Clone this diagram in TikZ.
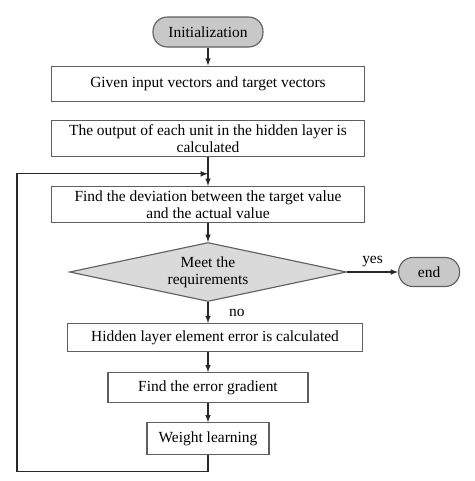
\documentclass[tikz,border=0pt]{standalone}
\usepackage{fontspec}
\setmainfont{Liberation Serif}
\usepackage{tikz}
\usetikzlibrary{positioning,arrows,shapes.geometric,calc}
\definecolor{TermFill}{RGB}{200,200,200}
\definecolor{DecFill}{RGB}{218,218,218}
\definecolor{BoxBorder}{RGB}{95,95,95}
\definecolor{LineCol}{RGB}{40,40,40}

\begin{document}
\begin{tikzpicture}[
  font=\fontsize{11}{12}\selectfont,
  >=latex,
  term/.style={
    rectangle, rounded corners=0.36cm, draw=BoxBorder, fill=TermFill, line width=0.8pt,
    inner sep=2pt, minimum height=0.75cm, align=center
  },
  proc/.style={
    rectangle, draw=BoxBorder, fill=white, line width=0.8pt,
    inner sep=2pt, align=center, minimum width=7.825cm, minimum height=0.875cm
  },
  dec/.style={
    diamond, aspect=4.7, draw=BoxBorder, fill=DecFill, line width=0.8pt,
    inner sep=0pt, align=center, minimum width=6.925cm, minimum height=1.475cm
  },
  arrow/.style={->, line width=0.8pt, draw=LineCol}
]
\useasboundingbox (-5.2,0.8) rectangle (6.65,-11.225);

% --- START ---
\node[term, minimum width=2.75cm] (init) {Initialization};

% --- PREPARATION ---
\node[proc, below=0.45cm of init] (given) {Given input vectors and target vectors};
\node[proc, minimum height=0.9cm, below=0.45cm of given] (hidout) {The output of each unit in the hidden layer is\\calculated};

% --- LOOP BODY ---
\node[proc, minimum height=0.9cm, below=0.725cm of hidout] (deviation) {Find the deviation between the target value\\and the actual value};
\node[dec, below=0.475cm of deviation] (meet) {Meet the\\requirements};
\node[term, minimum width=1.525cm, minimum height=0.725cm, right=1.275cm of meet] (end) {end};
\node[proc, minimum width=7.375cm, minimum height=0.7cm, below=0.525cm of meet, xshift=0.175cm] (hiderr) {Hidden layer element error is calculated};
\node[proc, minimum width=5cm, minimum height=0.75cm, below=0.5cm of hiderr, xshift=-0.175cm] (gradient) {Find the error gradient};
\node[proc, minimum width=3.05cm, minimum height=0.8cm, below=0.475cm of gradient] (weight) {Weight learning};

\coordinate[above=0.3cm of deviation] (join);

% --- connectors ---
\draw[arrow] (init) -- (given);
\draw[arrow] (hidout) -- (deviation);
\draw[arrow] (deviation) -- (meet);
\draw[arrow] (meet) -- (end)
  node[midway, above]{yes};
\draw[arrow] (meet.south) -- (meet.south |- hiderr.north)
  node[midway, right=0.4cm]{no};
\draw[arrow] (gradient.north |- hiderr.south) -- (gradient);
\draw[arrow] (gradient) -- (weight);

% --- feedback loop ---
\draw[arrow] (weight.south) -- ++(0,-0.4) -| ($(join)+(-4.775,0)$) -- (join);

\end{tikzpicture}
\end{document}
